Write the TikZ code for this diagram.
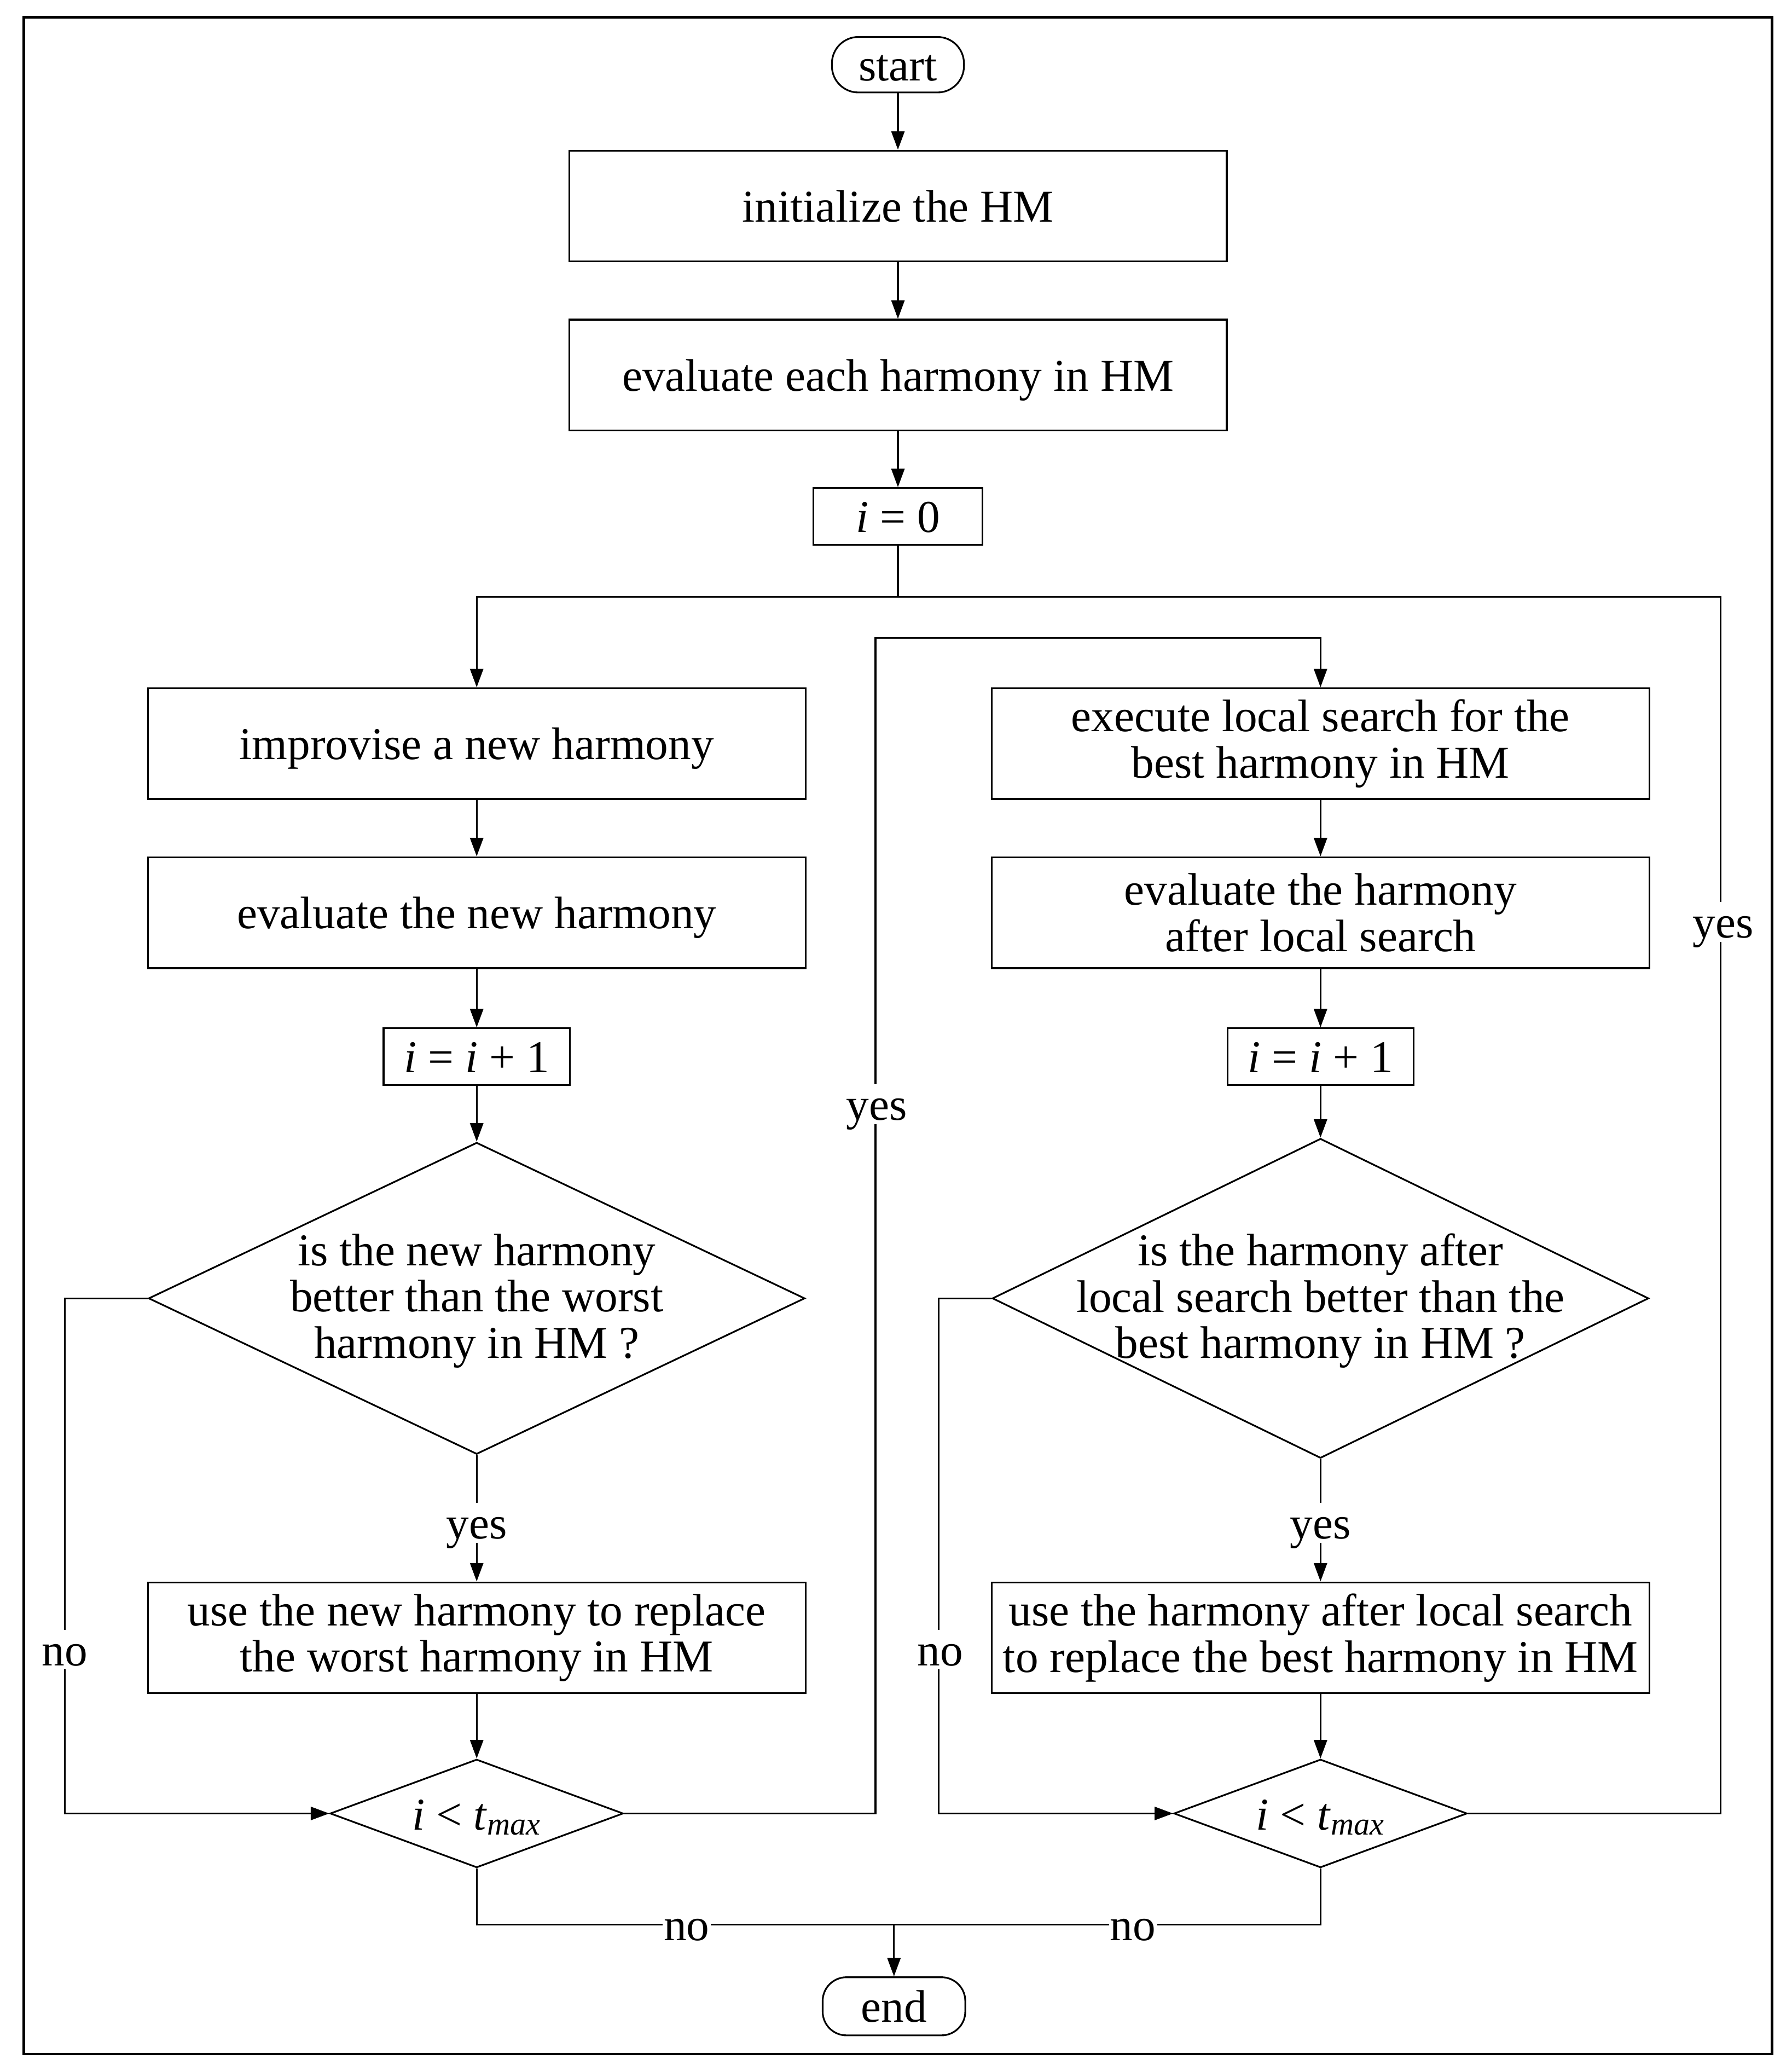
\documentclass[tikz,border=0pt]{standalone}
\usepackage{fontspec}
\setmainfont{Liberation Serif}
\usetikzlibrary{arrows.meta,shapes.geometric}
\begin{document}
\begin{tikzpicture}[x=1pt,y=-1pt,
  font=\fontsize{34.5}{35}\selectfont,
  one/.style={text height=24pt, text depth=0pt},
  box/.style={draw, line width=1.3pt, minimum width=498pt, minimum height=84pt, inner sep=0pt, align=center},
  smallbox/.style={draw, line width=1.3pt, minimum width=141pt, minimum height=43pt, inner sep=0pt},
  term/.style={draw, line width=1.3pt, rounded corners=20pt, minimum height=42pt, inner sep=0pt},
  dia/.style={draw, diamond, line width=1.3pt, inner sep=0pt},
  conn/.style={line width=1.3pt},
  arr/.style={line width=1.3pt, -{Triangle[length=14pt,width=10pt]}},
  lbl/.style={fill=white, inner sep=3pt, one}]
\useasboundingbox (0,0) rectangle (1357,1568);
\draw[line width=1.8pt] (18,13) rectangle (1342,1555);

% nodes
\node[term, one, minimum width=100pt] (start) at (680,49) {start};
\node[box, one] (init) at (680,156) {initialize the HM};
\node[box, one] (evalall) at (680,284) {evaluate each harmony in HM};
\node[smallbox, one, minimum width=128pt] (i0) at (680,391) {\textit{i} = 0};

\node[box, one] (imp) at (361,563) {improvise a new harmony};
\node[box, one] (evnew) at (361,691) {evaluate the new harmony};
\node[smallbox, one] (inc1) at (361,800) {\textit{i} = \textit{i} + 1};
\node[dia, minimum width=497pt, minimum height=236pt] (d1) at (361,983) {};
\node[align=center] (d1txt) at (361,985) {is the new harmony\\better than the worst\\harmony in HM ?};
\node[box] (rep1) at (361,1240) {use the new harmony to replace\\the worst harmony in HM};
\node[dia, minimum width=222pt, minimum height=82pt] (s1) at (361,1373) {};
\node (s1txt) at (361,1376) {\textit{i} < \textit{t}\textsubscript{\textit{max}}};

\node[box] (loc) at (1000,563) {execute local search for the\\best harmony in HM};
\node[box] (evloc) at (1000,691) {evaluate the harmony\\after local search};
\node[smallbox, one] (inc2) at (1000,800) {\textit{i} = \textit{i} + 1};
\node[dia, minimum width=497pt, minimum height=242pt] (d2) at (1000,983) {};
\node[align=center] (d2txt) at (1000,985) {is the harmony after\\local search better than the\\best harmony in HM ?};
\node[box] (rep2) at (1000,1240) {use the harmony after local search\\to replace the best harmony in HM};
\node[dia, minimum width=222pt, minimum height=82pt] (s2) at (1000,1373) {};
\node (s2txt) at (1000,1376) {\textit{i} < \textit{t}\textsubscript{\textit{max}}};

\node[term, one, minimum width=108pt, minimum height=44pt, rounded corners=18pt] (end) at (677,1519) {end};

% coordinates
\coordinate (j) at (680,452);
\coordinate (m) at (677,1457);

% connectors
\draw[arr] (start) -- (init);
\draw[arr] (init) -- (evalall);
\draw[arr] (evalall) -- (i0);
\draw[conn] (i0) -- (j);
\draw[arr] (j) -| (imp.north);
\draw[arr] (imp) -- (evnew);
\draw[arr] (evnew) -- (inc1);
\draw[arr] (inc1) -- (d1.north);
\draw[arr] (d1.south) -- (rep1.north);
\draw[arr] (rep1) -- (s1.north);
\draw[arr] (d1.west) -- (49,983) -- (49,1373) -- (s1.west);
\draw[arr] (s1.east) -- (663,1373) -- (663,483) -| (loc.north);

\draw[arr] (loc) -- (evloc);
\draw[arr] (evloc) -- (inc2);
\draw[arr] (inc2) -- (d2.north);
\draw[arr] (d2.south) -- (rep2.north);
\draw[arr] (rep2) -- (s2.north);
\draw[arr] (d2.west) -- (711,983) -- (711,1373) -- (s2.west);
\draw[conn] (s2.east) -- (1303,1373) -- (1303,452) -- (j);

\draw[conn] (s1.south) -- (361,1457) -- (1000,1457) -- (s2.south);
\draw[arr] (m) -- (end.north);

% labels
\node[lbl] (yes1) at (361,1153) {yes};
\node[lbl] (yes2) at (1000,1153) {yes};
\node[lbl] (yes3) at (664,836) {yes};
\node[lbl] (yes4) at (1305,698) {yes};
\node[lbl] (no1) at (49,1249) {no};
\node[lbl] (no2) at (712,1249) {no};
\node[lbl, inner sep=1pt] (no3) at (520,1457) {no};
\node[lbl, inner sep=1pt] (no4) at (858,1457) {no};
\end{tikzpicture}
\end{document}
